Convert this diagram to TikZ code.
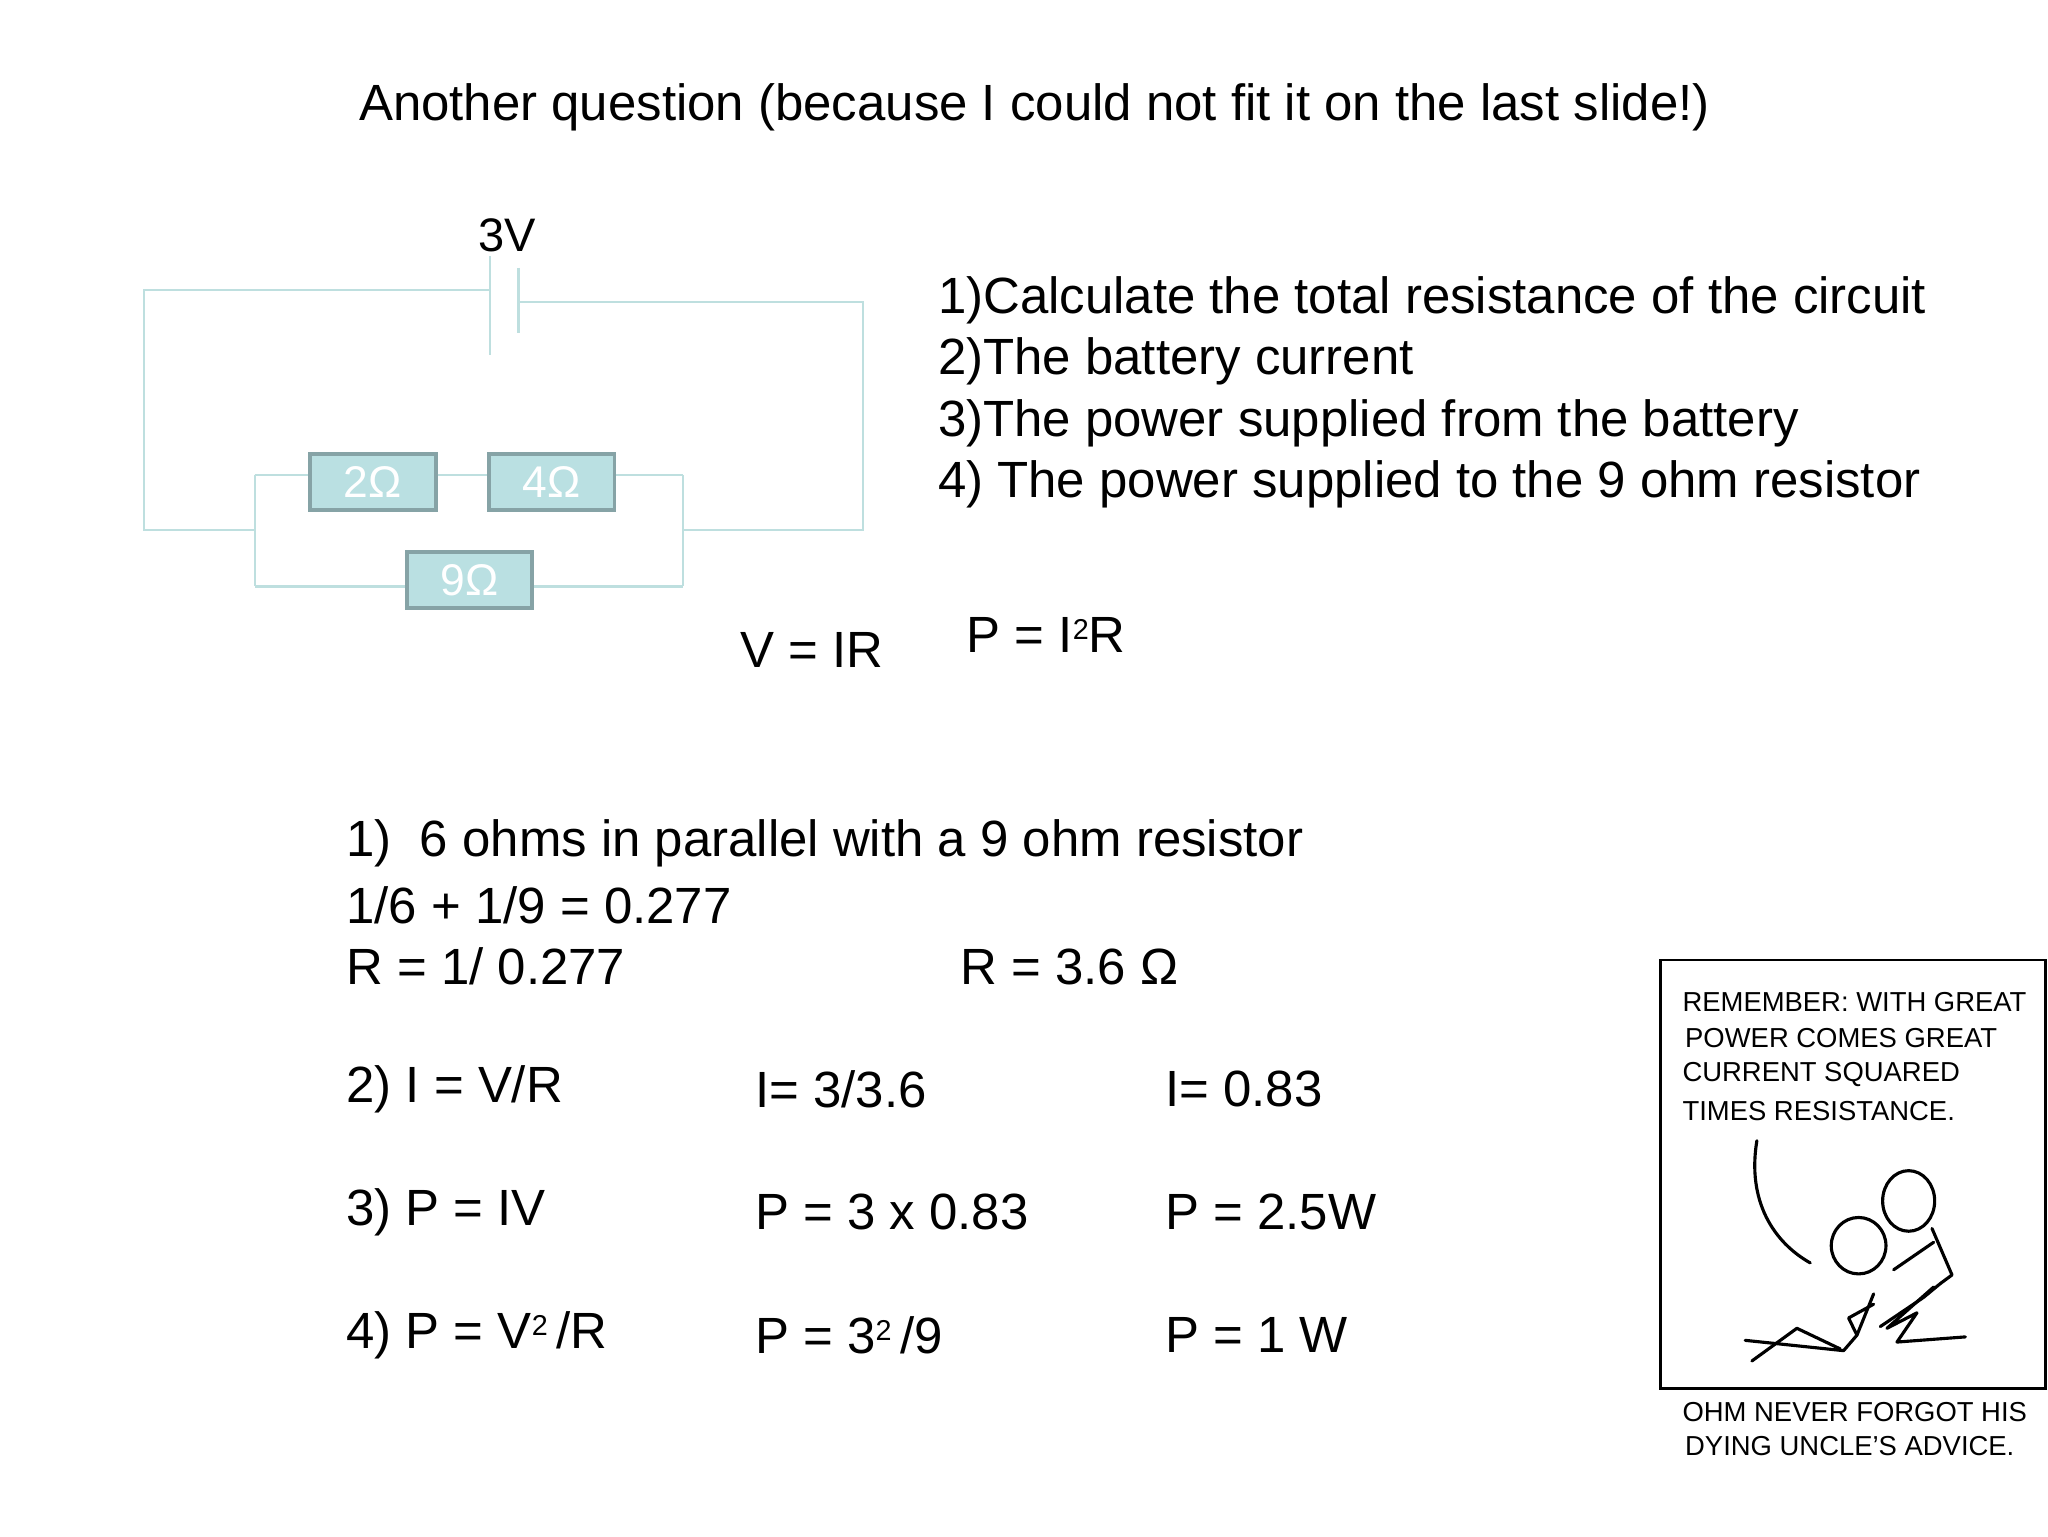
\documentclass[tikz,border=0pt]{standalone}
\usepackage{fontspec}
\setmainfont{Liberation Sans}
\begin{document}
\begin{tikzpicture}[x=1pt,y=-1pt,
  txt/.style={anchor=west,inner sep=0pt,font=\fontsize{39}{44}\selectfont},
  wire/.style={draw=wirec,line width=1.6pt},
  res/.style={draw=resb,fill=resf,line width=3pt,inner sep=0pt,text=white,font=\fontsize{34}{38}\selectfont,minimum width=96pt,minimum height=43pt},
  comic/.style={anchor=west,inner sep=0pt,font=\fontsize{21}{24}\selectfont},
  ink/.style={line width=2.4pt,line cap=round,line join=round}]
\definecolor{wirec}{HTML}{BEDFDF}
\definecolor{resb}{HTML}{86A3A6}
\definecolor{resf}{HTML}{BAE0E2}
\useasboundingbox[fill=white] (0,0) rectangle (1568,1176);
\node[anchor=center,inner sep=0pt,font=\fontsize{39}{44}\selectfont] (title) at (792,82) {Another question (because I could not fit it on the last slide!)};
% circuit
\node[anchor=center,inner sep=0pt,font=\fontsize{36}{40}\selectfont] (v3) at (388,180) {3V};
\coordinate (b1t) at (375,196); \coordinate (b1b) at (375,272);
\coordinate (b2t) at (397,205); \coordinate (b2b) at (397,255);
\draw[wire] (b1t) -- (b1b);
\draw[wire] (b2t) -- (b2b);
\coordinate (tl) at (110,222); \coordinate (bl) at (110,406);
\coordinate (tr) at (661,231); \coordinate (br) at (661,406);
\coordinate (pl) at (195,406); \coordinate (pr) at (523,406);
\coordinate (plt) at (195,364); \coordinate (plb) at (195,449);
\coordinate (prt) at (523,364); \coordinate (prb) at (523,449);
\draw[wire] (375,222) -- (tl) -- (bl) -- (pl);
\draw[wire] (397,231) -- (tr) -- (br) -- (pr);
\draw[wire] (plt) -- (plb); \draw[wire] (prt) -- (prb);
\node[res] (r2) at (285.5,369) {2Ω};
\node[res] (r4) at (422.5,369) {4Ω};
\node[res] (r9) at (359.5,444) {9Ω};
\draw[wire] (plt) -- (plt -| r2.west);
\draw[wire] (r2.east |- plt) -- (r4.west |- plt);
\draw[wire] (r4.east |- prt) -- (prt);
\draw[wire] (plb) -- (plb -| r9.west);
\draw[wire] (r9.east |- prb) -- (prb);
% questions
\node[txt] (q1) at (718,230) {1)Calculate the total resistance of the circuit};
\node[txt] (q2) at (718,277) {2)The battery current};
\node[txt] (q3) at (718,324) {3)The power supplied from the battery};
\node[txt] (q4) at (718,371) {4) The power supplied to the 9 ohm resistor};
\node[txt] (f1) at (567,498) {V = IR};
\node[txt] (f2) at (740,486) {P = I{\fontsize{22}{22}\selectfont\raisebox{10pt}{2}}R};
% answers
\node[txt] (a1) at (265,646) {1)\ \ 6 ohms in parallel with a 9 ohm resistor};
\node[txt] (a2) at (265,693) {1/6 + 1/9 = 0.277};
\node[txt] (a3) at (265,740) {R = 1/ 0.277};
\node[txt] (a4) at (735,740) {R = 3.6 Ω};
\node[txt] (b1) at (265,834) {2) I = V/R};
\node[txt] (b2) at (578,834) {I= 3/3.6};
\node[txt] (b3) at (892,834) {I= 0.83};
\node[txt] (c1) at (265,928) {3) P = IV};
\node[txt] (c2) at (578,928) {P = 3 x 0.83};
\node[txt] (c3) at (892,928) {P = 2.5W};
\node[txt] (d1) at (265,1022) {4) P = V{\fontsize{22}{22}\selectfont\raisebox{10pt}{2}}\,/R};
\node[txt] (d2) at (578,1022) {P = 3{\fontsize{22}{22}\selectfont\raisebox{10pt}{2}}\,/9};
\node[txt] (d3) at (892,1022) {P = 1 W};
% comic
\draw[line width=2.2pt] (1271,735) rectangle (1566,1063);
\node[comic] (m1) at (1288,767) {REMEMBER: WITH GREAT};
\node[comic] (m2) at (1290,795) {POWER COMES GREAT};
\node[comic] (m3) at (1288,823) {CURRENT SQUARED};
\node[comic] (m4) at (1288,851) {TIMES RESISTANCE.};
\node[comic] (cap1) at (1288,1081) {OHM NEVER FORGOT HIS};
\node[comic] (cap2) at (1290,1107) {DYING UNCLE'S ADVICE.};
\begin{scope}[shift={(1255.7,719.2)},x=0.2554pt,y=-0.2635pt]
\draw[ink] (350,585) .. controls (320,760) and (400,880) .. (510,940);
\draw[ink] (805,760) ellipse[x radius=78,y radius=88];
\draw[ink] (655,890) circle[radius=82];
\draw[ink] (875,840) -- (935,975) -- (900,1000);
\draw[ink] (900,1000) -- (850,1040) -- (720,1125);
\draw[ink] (760,960) -- (880,880);
\draw[ink] (880,1010) -- (740,1130) -- (830,1085) -- (770,1170) -- (975,1155);
\draw[ink] (700,1030) -- (650,1150) -- (625,1100) -- (700,1060);
\draw[ink] (315,1165) -- (610,1195) -- (650,1150);
\draw[ink] (335,1225) -- (470,1130) -- (600,1190);
\end{scope}
\end{tikzpicture}
\end{document}
